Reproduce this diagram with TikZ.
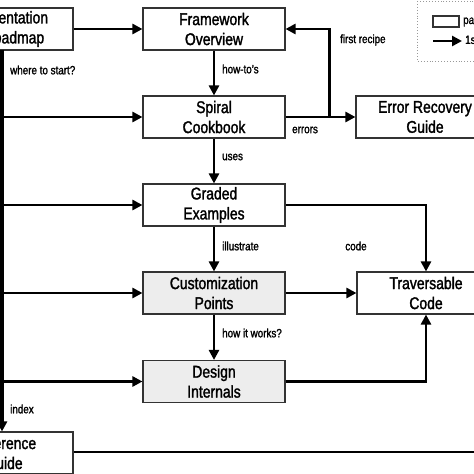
\documentclass[tikz,border=0pt]{standalone}
\usepackage{fontspec}
\setmainfont{Liberation Sans}[FakeStretch=0.82,FakeBold=1.6]
\usetikzlibrary{arrows.meta,calc}
\begin{document}
\begin{tikzpicture}[x=1pt,y=-1pt,
    docbox/.style={draw=black!80,line width=1.1pt,fill=white,minimum width=142pt,
        minimum height=42pt,align=center,inner sep=0pt,
        font=\fontsize{17}{20}\selectfont},
    shaded/.style={docbox,fill=black!7},
    flow/.style={line width=2.6pt,-{Triangle[length=10pt,width=10pt]}},
    tag/.style={anchor=west,inner sep=0pt,font=\fontsize{12}{14}\selectfont}]
    \useasboundingbox (0,0) rectangle (474,474);
    \clip (0,0) rectangle (474,474);

    % Left column (cut by the frame)
    \node[docbox,minimum width=118pt] (orient) at (14,29) {Orientation\\Roadmap};
    \node[docbox,minimum width=138pt] (refguide) at (4,453) {Reference\\Guide};
    \coordinate (spine) at (2,50);

    % Middle column
    \node[docbox] (frame) at (214,29) {Framework\\Overview};
    \node[docbox] (spiral) at (214,117) {Spiral\\Cookbook};
    \node[docbox] (graded) at (214,205) {Graded\\Examples};
    \node[shaded] (custom) at (214,293) {Customization\\Points};
    \node[shaded] (design) at (214,381.5) {Design\\Internals};

    % Right column
    \node[docbox,minimum width=138pt] (recovery) at (425,117) {Error Recovery\\Guide};
    \node[docbox,minimum width=138pt] (travcode) at (426,293) {Traversable\\Code};

    % Orientation roadmap: straight on, and the spine down the left
    \draw[flow] (orient.east) -- (frame.west);
    \draw[flow,line width=3.4pt] (spine) -- (spine |- refguide.north);
    \draw[flow] (spine |- spiral) -- (spiral.west);
    \draw[flow] (spine |- graded) -- (graded.west);
    \draw[flow] (spine |- custom) -- (custom.west);
    \draw[flow] (spine |- design) -- (design.west);

    % Down the middle column
    \draw[flow] (frame) -- (spiral);
    \draw[flow] (spiral) -- (graded);
    \draw[flow] (graded) -- (custom);
    \draw[flow] (custom) -- (design);

    % Errors and the way back up
    \coordinate (fork) at ($(spiral.east)!0.63!(recovery.west)$);
    \draw[flow] (spiral.east) -- (recovery.west);
    \draw[flow] (fork) |- (frame.east);

    % Into the traversable code
    \draw[flow] (graded.east) -| (travcode.north);
    \draw[flow] (custom.east) -- (travcode.west);
    \draw[flow] (design.east) -| (travcode.south);

    % Reference guide runs off to the right
    \coordinate (offright) at (490,452);
    \draw[line width=2.6pt] (refguide.east |- offright) -- (offright);

    % Labels
    \node[tag] (lstart) at (10,70) {where to start?};
    \node[tag] (lindex) at (10,409) {index};
    \node[tag] (lhow) at (222,69) {how-to's};
    \node[tag] (luses) at (222,157) {uses};
    \node[tag] (lillus) at (222,246) {illustrate};
    \node[tag] (lworks) at (222,333) {how it works?};
    \node[tag] (lfirst) at (340,40) {first recipe};
    \node[tag] (lerrors) at (292,130) {errors};
    \node[tag,anchor=center] (lcode) at (356,246) {code};

    % Legend
    \draw[black!40,line width=0.9pt,dotted] (417,1) rectangle (520,61);
    \node[draw=black!80,line width=1.1pt,minimum width=26pt,minimum height=11pt,
        inner sep=0pt] (legbox) at (446,21.5) {};
    \coordinate (legtail) at (433,41);
    \coordinate (leghead) at (462,41);
    \draw[flow] (legtail) -- (leghead);
    \node[tag] (lpage) at (463,22) {page};
    \node[tag] (lfirststep) at (465,41) {1st step};
\end{tikzpicture}
\end{document}
